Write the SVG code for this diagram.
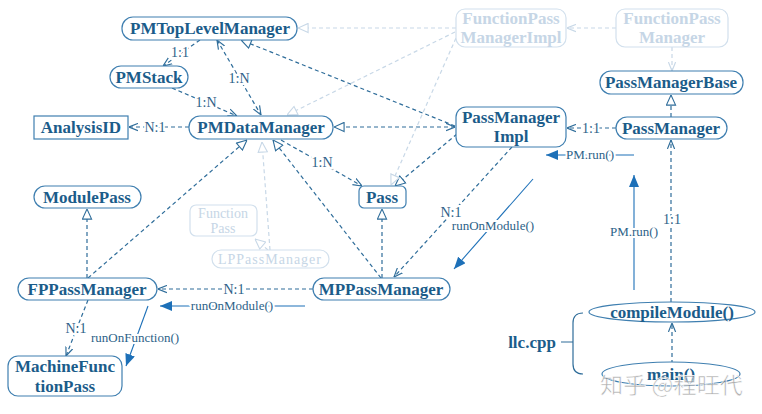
<svg xmlns="http://www.w3.org/2000/svg" width="762" height="414" viewBox="0 0 762 414">
<style>
.n rect,.n ellipse{fill:#fff;stroke:#3f7fb0;stroke-width:1.2}
.f rect{fill:#fff;stroke:#d2e0ed;stroke-width:1.2}
text{font-family:'Liberation Serif','Times New Roman','DejaVu Serif',serif}
.t{font-weight:bold;font-size:17px;fill:#1b5c8a;text-anchor:middle}
.ft{font-weight:bold;font-size:17px;fill:#c6d6e6;text-anchor:middle}
.fr{font-size:14px;fill:#c6d6e6;text-anchor:middle}
.l{font-size:14px;fill:#2d6288;text-anchor:middle;paint-order:stroke;stroke:#fff;stroke-width:4px}
.s{font-size:13px;fill:#2d6288;text-anchor:middle;paint-order:stroke;stroke:#fff;stroke-width:4px}
.d{fill:none;stroke:#2f6d9a;stroke-width:1.2;stroke-dasharray:4 3}
.fd{fill:none;stroke:#c8d8e7;stroke-width:1.2;stroke-dasharray:4 3}
.sl{fill:none;stroke:#1d70b8;stroke-width:1.1}
</style>
<defs>
<marker id="o" viewBox="0 0 10 10" refX="10" refY="5" markerWidth="9" markerHeight="9" markerUnits="userSpaceOnUse" orient="auto-start-reverse"><path d="M0,1 L10,5 L0,9" fill="none" stroke="#2f6d9a" stroke-width="1.3"/></marker>
<marker id="h" viewBox="0 0 12 12" refX="12" refY="6" markerWidth="11" markerHeight="11" markerUnits="userSpaceOnUse" orient="auto"><path d="M1,1 L12,6 L1,11 Z" fill="#fff" stroke="#2f6d9a" stroke-width="1.2"/></marker>
<marker id="fo" viewBox="0 0 10 10" refX="10" refY="5" markerWidth="9" markerHeight="9" markerUnits="userSpaceOnUse" orient="auto"><path d="M0,1 L10,5 L0,9" fill="none" stroke="#c8d8e7" stroke-width="1.3"/></marker>
<marker id="fh" viewBox="0 0 12 12" refX="12" refY="6" markerWidth="11" markerHeight="11" markerUnits="userSpaceOnUse" orient="auto"><path d="M1,1 L12,6 L1,11 Z" fill="#fff" stroke="#c8d8e7" stroke-width="1.2"/></marker>
<marker id="s" viewBox="0 0 12 10" refX="12" refY="5" markerWidth="12" markerHeight="10" markerUnits="userSpaceOnUse" orient="auto"><path d="M0,0 L12,5 L0,10 Z" fill="#1d70b8"/></marker>
</defs>
<rect width="762" height="414" fill="#fff"/>
<g id="connectors">
<path class="d" d="M200,40 L163,66" marker-end="url(#o)"/>
<path class="d" d="M172,88 L237,116" marker-end="url(#o)"/>
<path class="d" d="M217,40 L261,115" marker-start="url(#o)" marker-end="url(#o)"/>
<path class="d" d="M189,127 L129,127" marker-end="url(#o)"/>
<path class="d" d="M455,127 L334,127" marker-start="url(#o)" marker-end="url(#h)"/>
<path class="d" d="M455,126 L241,40" marker-end="url(#h)"/>
<path class="d" d="M457,134 L395,186" marker-end="url(#h)"/>
<path class="d" d="M281,140 L362,186" marker-end="url(#o)"/>
<path class="fd" d="M456,28 L298,28" marker-end="url(#fh)"/>
<path class="fd" d="M455,32 L287,115" marker-end="url(#fh)"/>
<path class="fd" d="M456,38 L391,185" marker-end="url(#fh)"/>
<path class="fd" d="M616,28 L567,28" marker-end="url(#fo)"/>
<path class="fd" d="M672,47 L672,71" marker-end="url(#fo)"/>
<path class="d" d="M671,117 L671,95" marker-end="url(#h)"/>
<path class="d" d="M616,128 L567,128" marker-end="url(#o)"/>
<path class="d" d="M671,302 L671,140" marker-end="url(#o)"/>
<path class="d" d="M672,364 L672,323" marker-end="url(#o)"/>
<path class="sl" d="M634,290 L634,175" marker-end="url(#s)"/>
<path class="sl" d="M634,155 L546,155" marker-end="url(#s)"/>
<path class="d" d="M512,147 L394,277" marker-end="url(#o)"/>
<path class="sl" d="M533,179 L454,269" marker-end="url(#s)"/>
<path class="d" d="M382,278 L382,209" marker-end="url(#h)"/>
<path class="d" d="M381,278 L273,140" marker-end="url(#h)"/>
<path class="d" d="M88,278 L247,140" marker-end="url(#h)"/>
<path class="d" d="M87,278 L87,209" marker-end="url(#h)"/>
<path class="d" d="M313,289 L158,289" marker-end="url(#o)"/>
<path class="sl" d="M305,306 L160,306" marker-end="url(#s)"/>
<path class="d" d="M88,300 L66,356" marker-end="url(#o)"/>
<path class="sl" d="M148,306 L126,366" marker-end="url(#s)"/>
<path class="fd" d="M270,250 L262,142" marker-end="url(#fh)"/>
<path class="fd" d="M268,250 L255,239" marker-end="url(#fh)"/>
<text class="l" x="180" y="57">1:1</text>
<text class="l" x="206" y="107">1:N</text>
<text class="l" x="239" y="83">1:N</text>
<text class="l" x="155" y="132">N:1</text>
<text class="l" x="322" y="167">1:N</text>
<text class="l" x="591" y="133">1:1</text>
<text class="l" x="672" y="224">1:1</text>
<text class="s" x="634" y="236">PM.run()</text>
<text class="s" x="590" y="159">PM.run()</text>
<text class="l" x="451" y="217">N:1</text>
<text class="s" x="493" y="230">runOnModule()</text>
<text class="l" x="234" y="294">N:1</text>
<text class="s" x="232" y="310">runOnModule()</text>
<text class="l" x="76" y="333">N:1</text>
<text class="s" x="135" y="342">runOnFunction()</text>
</g>
<g id="PMTopLevelManager" class="n"><rect x="122" y="17" width="175" height="23" rx="11"/><text class="t" x="210" y="34">PMTopLevelManager</text></g>
<g id="PMStack" class="n"><rect x="110" y="66" width="78" height="22" rx="11"/><text class="t" x="149" y="83">PMStack</text></g>
<g id="AnalysisID" class="n"><rect x="34" y="116" width="94" height="23"/><text class="t" x="81" y="133">AnalysisID</text></g>
<g id="PMDataManager" class="n"><rect x="189" y="116" width="144" height="23" rx="11"/><text class="t" x="261" y="133">PMDataManager</text></g>
<g id="PassManagerImpl" class="n"><rect x="456" y="107" width="110" height="40" rx="10"/><text class="t" x="511" y="123">PassManager</text><text class="t" x="511" y="142">Impl</text></g>
<g id="PassManager" class="n"><rect x="616" y="117" width="111" height="22" rx="11"/><text class="t" x="671" y="134">PassManager</text></g>
<g id="PassManagerBase" class="n"><rect x="600" y="71" width="143" height="23" rx="11"/><text class="t" x="671" y="88">PassManagerBase</text></g>
<g id="FunctionPassManagerImpl" class="f"><rect x="456" y="9" width="110" height="38" rx="9"/><text class="ft" x="511" y="24">FunctionPass</text><text class="ft" x="511" y="43">ManagerImpl</text></g>
<g id="FunctionPassManager" class="f"><rect x="616" y="9" width="112" height="38" rx="9"/><text class="ft" x="672" y="24">FunctionPass</text><text class="ft" x="672" y="43">Manager</text></g>
<g id="ModulePass" class="n"><rect x="34" y="186" width="107" height="22" rx="11"/><text class="t" x="87" y="203">ModulePass</text></g>
<g id="Pass" class="n"><rect x="359" y="186" width="47" height="22" rx="5"/><text class="t" x="382" y="203">Pass</text></g>
<g id="FunctionPass" class="f"><rect x="190" y="205" width="67" height="31" rx="6"/><text class="fr" x="223" y="218">Function</text><text class="fr" x="223" y="233">Pass</text></g>
<g id="LPPassManager" class="f"><rect x="212" y="250" width="117" height="18" rx="9"/><text class="fr" x="270" y="264" letter-spacing="1">LPPassManager</text></g>
<g id="FPPassManager" class="n"><rect x="18" y="278" width="139" height="22" rx="11"/><text class="t" x="87" y="295">FPPassManager</text></g>
<g id="MPPassManager" class="n"><rect x="313" y="278" width="137" height="22" rx="11"/><text class="t" x="381" y="295">MPPassManager</text></g>
<g id="MachineFunctionPass" class="n"><rect x="8" y="356" width="114" height="40" rx="10"/><text class="t" x="65" y="372">MachineFunc</text><text class="t" x="65" y="392">tionPass</text></g>
<g id="compileModule" class="n"><ellipse cx="672" cy="312" rx="83" ry="10"/><text class="t" x="672" y="318">compileModule()</text></g>
<g id="main" class="n"><ellipse cx="671" cy="374" rx="69" ry="12"/><text class="t" x="671" y="380">main()</text></g>
<g id="llc"><path d="M583,313 Q573,313 573,323 L573,364 Q573,374 583,374 M561,342 L573,342" fill="none" stroke="#2f6d9a" stroke-width="1.2"/><text class="t" x="532" y="348">llc.cpp</text></g>
<text x="600" y="393" textLength="143" lengthAdjust="spacingAndGlyphs" style="font-family:'Noto Sans CJK SC',sans-serif" font-size="22" fill="#8c8c8c" fill-opacity="0.7" stroke="#fff" stroke-width="0.6">知乎 @程旺代</text>
</svg>
